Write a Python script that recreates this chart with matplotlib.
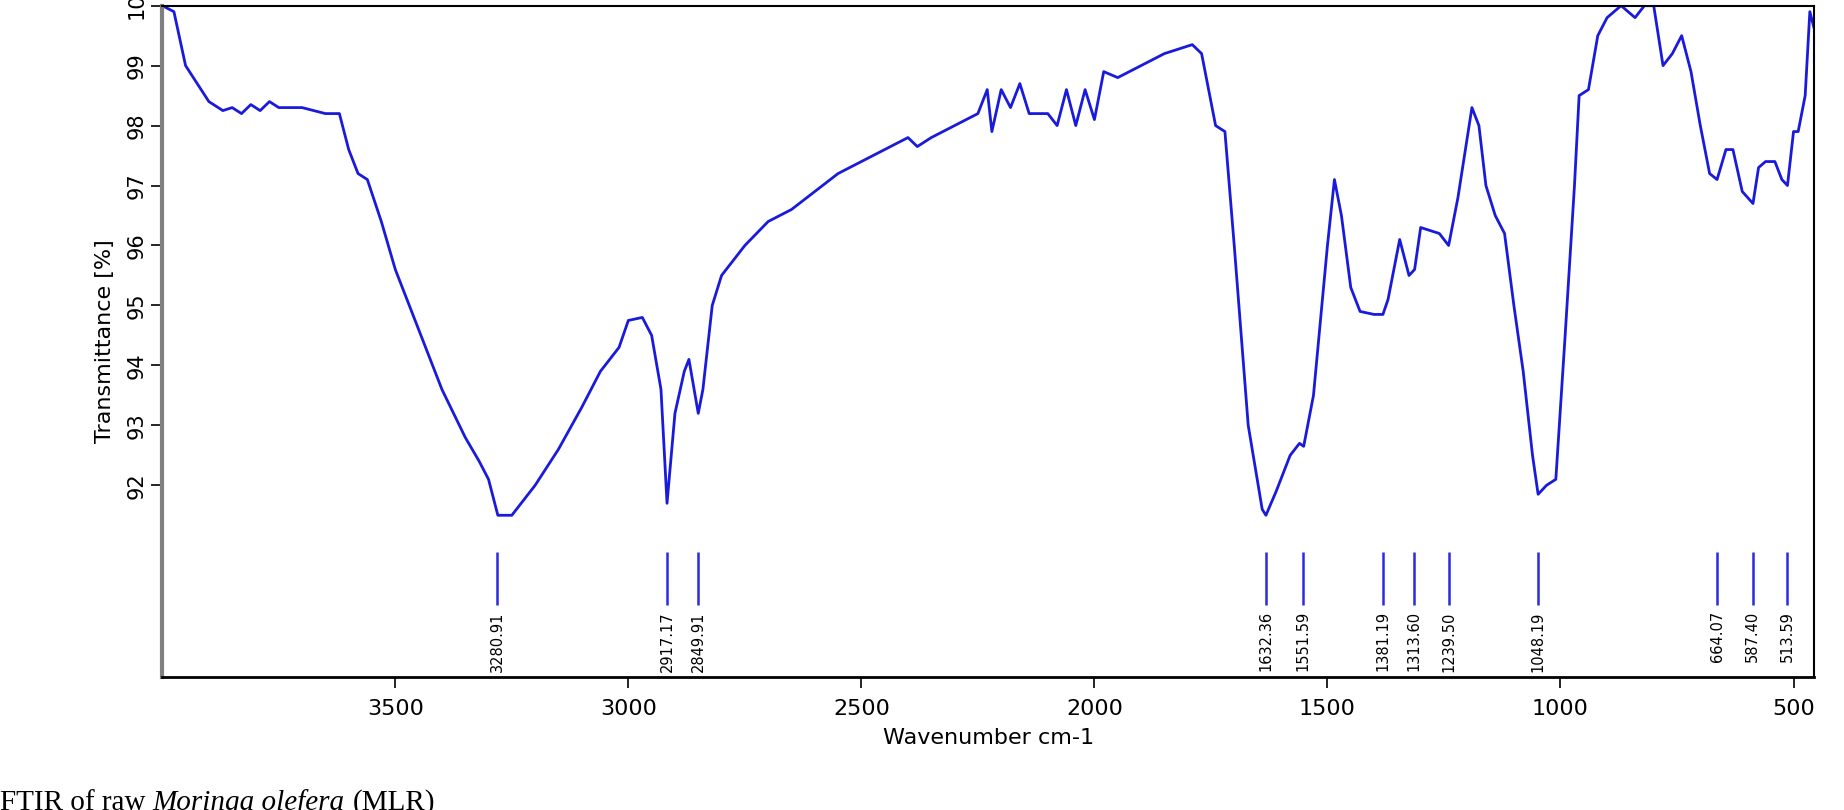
import matplotlib.pyplot as plt

wn = [4000, 3975, 3950, 3900, 3870, 3850, 3830, 3810, 3790, 3770, 3750, 3700, 3650, 3620, 3600,
      3580, 3560, 3530, 3500, 3480, 3450, 3400, 3350, 3320, 3300, 3280, 3250, 3220, 3200, 3150,
      3100, 3060, 3020, 3000, 2970, 2950, 2930, 2917, 2900, 2880, 2870, 2850, 2840, 2820, 2800,
      2750, 2700, 2650, 2600, 2550, 2500, 2450, 2400, 2380, 2350, 2300, 2250, 2230, 2220, 2200,
      2180, 2160, 2140, 2100, 2080, 2060, 2040, 2020, 2000, 1980, 1950, 1900, 1850, 1790, 1770,
      1740, 1720, 1700, 1670, 1640, 1632, 1610, 1580, 1560, 1551, 1530, 1500, 1485, 1470, 1450,
      1430, 1400, 1381, 1370, 1345, 1325, 1313, 1300, 1260, 1240, 1220, 1190, 1175, 1160, 1140,
      1120, 1100, 1080, 1060, 1048, 1030, 1010, 990, 970, 960, 940, 920, 900, 870, 840,
      820, 800, 780, 760, 740, 720, 700, 680, 664, 645, 630, 610, 587, 575, 560,
      540, 525, 513, 500, 490, 475, 465, 455, 440]
trans = [100.0, 99.9, 99.0, 98.4, 98.25, 98.3, 98.2, 98.35, 98.25, 98.4, 98.3, 98.3, 98.2, 98.2, 97.6,
         97.2, 97.1, 96.4, 95.6, 95.2, 94.6, 93.6, 92.8, 92.4, 92.1, 91.5, 91.5, 91.8, 92.0, 92.6,
         93.3, 93.9, 94.3, 94.75, 94.8, 94.5, 93.6, 91.7, 93.2, 93.9, 94.1, 93.2, 93.6, 95.0, 95.5,
         96.0, 96.4, 96.6, 96.9, 97.2, 97.4, 97.6, 97.8, 97.65, 97.8, 98.0, 98.2, 98.6, 97.9, 98.6,
         98.3, 98.7, 98.2, 98.2, 98.0, 98.6, 98.0, 98.6, 98.1, 98.9, 98.8, 99.0, 99.2, 99.35, 99.2,
         98.0, 97.9, 96.0, 93.0, 91.6, 91.5, 91.9, 92.5, 92.7, 92.65, 93.5, 96.0, 97.1, 96.5, 95.3,
         94.9, 94.85, 94.85, 95.1, 96.1, 95.5, 95.6, 96.3, 96.2, 96.0, 96.8, 98.3, 98.0, 97.0, 96.5,
         96.2, 95.0, 93.9, 92.5, 91.85, 92.0, 92.1, 94.5, 97.0, 98.5, 98.6, 99.5, 99.8, 100.0, 99.8,
         100.0, 100.0, 99.0, 99.2, 99.5, 98.9, 98.0, 97.2, 97.1, 97.6, 97.6, 96.9, 96.7, 97.3, 97.4,
         97.4, 97.1, 97.0, 97.9, 97.9, 98.5, 99.9, 99.6, 99.8]

peaks = [3280.91, 2917.17, 2849.91, 1632.36, 1551.59, 1381.19, 1313.60, 1239.50,
         1048.19, 664.07, 587.40, 513.59]
peak_labels = ["3280.91", "2917.17", "2849.91", "1632.36", "1551.59", "1381.19", "1313.60",
               "1239.50", "1048.19", "664.07", "587.40", "513.59"]

fig = plt.figure(figsize=(18.44, 8.1), dpi=100)
ax = fig.add_axes([0.088, 0.164, 0.896, 0.829])

ax.plot(wn, trans, color='#1a1adc', lw=2)
ax.vlines(peaks, 90.0, 90.88, color='#2a2ae0', lw=1.8)
for p, lab in zip(peaks, peak_labels):
    ax.text(p, 89.9, lab, rotation=90, ha='center', va='top', fontsize=10.5)

ax.set_xlim(4000, 455)
ax.set_ylim(88.8, 100.0)
ax.set_xticks([3500, 3000, 2500, 2000, 1500, 1000, 500])
ax.set_yticks(range(92, 101))
ax.set_yticklabels([str(v) for v in range(92, 100)] + ['10'], rotation=90, va='center', fontsize=15)
ax.tick_params(axis='x', labelsize=16, length=8, width=1.2, pad=8)
ax.tick_params(axis='y', length=8, width=1.2)
ax.set_xlabel('Wavenumber cm-1', fontsize=16, labelpad=6)
ax.set_ylabel('Transmittance [%]', fontsize=16, labelpad=8)
ax.spines['left'].set_color('#808080')
ax.spines['left'].set_linewidth(3)
ax.spines['bottom'].set_linewidth(2)
for s in ['top', 'right']:
    ax.spines[s].set_linewidth(1.5)

# caption, partly cut off at the bottom like the reference
t0 = fig.text(0.0, -0.008, 'FTIR of raw ', fontsize=21, family='Liberation Serif', va='bottom')
fig.canvas.draw()
r = fig.canvas.get_renderer()
x = t0.get_window_extent(r).x1 / fig.bbox.width
t2 = fig.text(x, -0.008, 'Moringa olefera', fontsize=21, family='Liberation Serif',
              style='italic', va='bottom')
x = t2.get_window_extent(r).x1 / fig.bbox.width
fig.text(x + 0.004, -0.008, '(MLR)', fontsize=21, family='Liberation Serif', va='bottom')

fig.savefig('out.png', dpi=100)
